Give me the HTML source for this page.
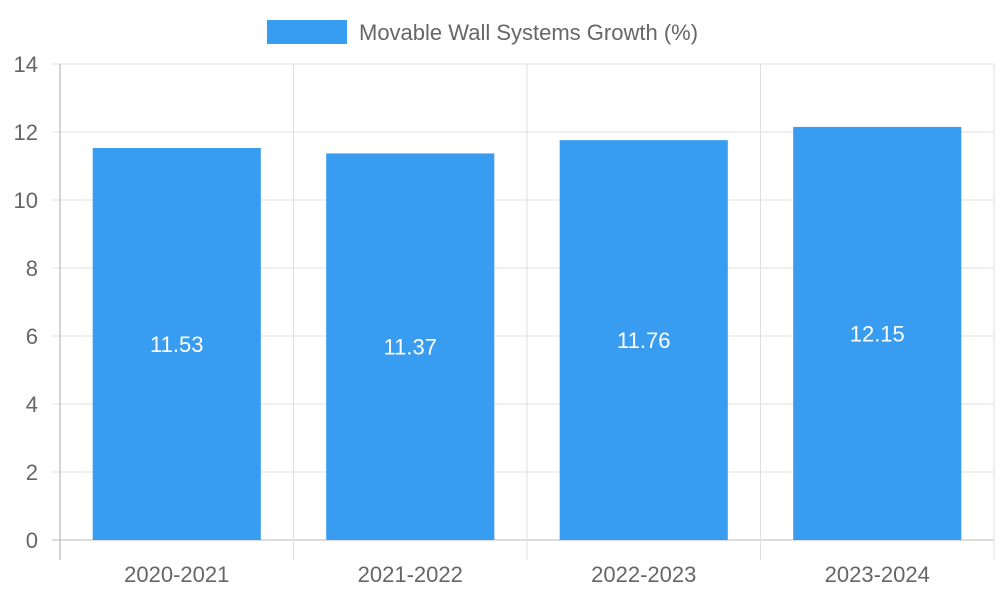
<!DOCTYPE html>
<html><head><meta charset="utf-8"><style>
html,body{margin:0;padding:0;background:#fff;}
svg{display:block;font-family:"Liberation Sans",sans-serif;}
</style></head><body>
<svg id="chart" width="1000" height="600">
<g>
<rect x="267" y="20" width="80" height="24" fill="#389cf0"/>
<text x="359" y="40" font-size="22" fill="#666">Movable Wall Systems Growth (%)</text>
</g>
<g id="grid"></g><g id="bars"></g><g id="labels"></g>
</svg>
<script>
const categories = ["2020-2021","2021-2022","2022-2023","2023-2024"];
const values = [11.53, 11.37, 11.76, 12.15];
const yTicks = [0,2,4,6,8,10,12,14];
const L=60,R=994,T=64,B=540,yMax=14;
const ns="http://www.w3.org/2000/svg";
const y=v=>B-(v/yMax)*(B-T);
const bw=(R-L)/categories.length;
const x=i=>L+bw*(i+0.5);
function mk(tag,attrs,parent){const e=document.createElementNS(ns,tag);for(const k in attrs)e.setAttribute(k,attrs[k]);parent.appendChild(e);return e;}
const grid=document.getElementById('grid'),bars=document.getElementById('bars'),labels=document.getElementById('labels');
yTicks.forEach(t=>{
 const l=mk('line',{x1:52,x2:R,y1:y(t),y2:y(t),stroke:t===0?'#bbb':'#e0e0e0','stroke-width':1},grid);
 
 
 const tx=mk('text',{x:38,y:y(t)+8,'font-size':22,fill:'#666','text-anchor':'end'},grid);
 tx.textContent=t;
 
 
});
for(let i=0;i<=categories.length;i++){
 const gx=L+bw*i;
 const l=mk('line',{x1:gx,x2:gx,y1:T,y2:560,stroke:i===0?'#aaa':'#e0e0e0','stroke-width':1},grid);
 
 
}
categories.forEach((c,i)=>{
 const w=bw*0.72;
 const r=mk('rect',{x:x(i)-w/2,y:y(values[i]),width:w,height:B-y(values[i]),fill:'#389cf0'},bars);
 
 
 const v=mk('text',{x:x(i),y:(y(values[i])+B)/2+8,'font-size':22,fill:'#fff','text-anchor':'middle'},labels);
 v.textContent=values[i].toFixed(2);
 
 
 const xl=mk('text',{x:x(i),y:582,'font-size':22,fill:'#666','text-anchor':'middle'},labels);
 xl.textContent=c;
 
 
});
</script>
</body></html>
